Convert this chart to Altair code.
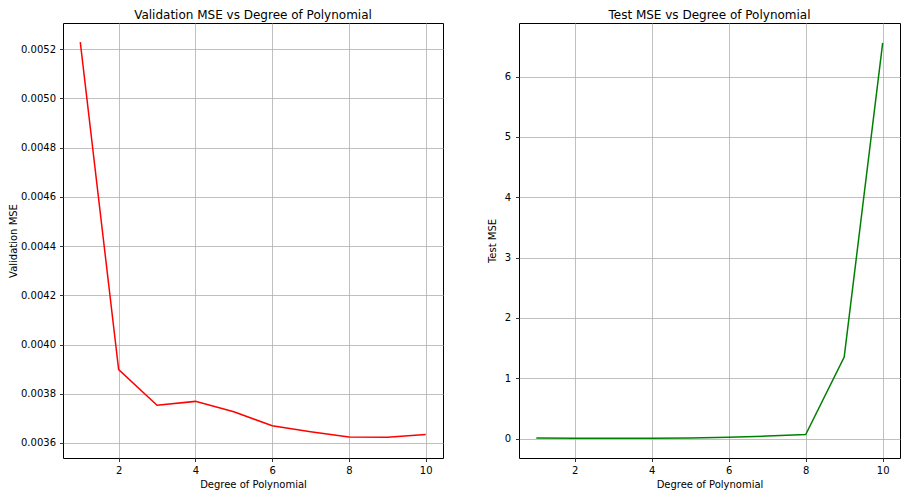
import altair as alt
import pandas as pd

degrees = [1, 2, 3, 4, 5, 6, 7, 8, 9, 10]
val_mse = [0.005228, 0.003898, 0.003753, 0.003769, 0.003727, 0.003670, 0.003646, 0.003624, 0.003623, 0.003634]
test_mse = [0.008, 0.006, 0.005, 0.006, 0.010, 0.020, 0.040, 0.066, 1.35, 6.56]

df = pd.DataFrame({"deg": degrees, "val": val_mse, "test": test_mse})

FONT = "DejaVu Sans"

def xenc():
    return alt.X("deg:Q", scale=alt.Scale(domain=[0.55, 10.45], nice=False, zero=False),
                 axis=alt.Axis(title="Degree of Polynomial", values=[2, 4, 6, 8, 10], format="d"))

left = alt.Chart(df).mark_line(color="#ff0000", strokeWidth=1.5).encode(
    x=xenc(),
    y=alt.Y("val:Q", scale=alt.Scale(domain=[0.003539, 0.005306], nice=False, zero=False),
            axis=alt.Axis(title="Validation MSE", values=[0.0036, 0.0038, 0.0040, 0.0042, 0.0044, 0.0046, 0.0048, 0.0050, 0.0052],
                          format=".4f", titlePadding=2, labelPadding=4)),
).properties(width=380, height=435,
             title=alt.TitleParams("Validation MSE vs Degree of Polynomial"))

right = alt.Chart(df).mark_line(color="#008000", strokeWidth=1.5).encode(
    x=xenc(),
    y=alt.Y("test:Q", scale=alt.Scale(domain=[-0.323, 6.888], nice=False, zero=False),
            axis=alt.Axis(title="Test MSE", values=[0, 1, 2, 3, 4, 5, 6], format="d", titlePadding=7, labelPadding=5)),
).properties(width=381, height=435,
             title=alt.TitleParams("Test MSE vs Degree of Polynomial"))

chart = alt.hconcat(left, right, spacing=76, bounds="flush").properties(
    padding={"left": 0, "top": 0, "right": 0, "bottom": 0},
).configure(font=FONT).configure_view(
    stroke="#000000", strokeWidth=1
).configure_axis(
    domain=False, grid=True, gridColor="#b0b0b0", gridWidth=0.8,
    tickColor="#000000", tickWidth=0.8, tickSize=3.5, labelPadding=3.5,
    labelFont=FONT, labelFontSize=10, labelColor="#000000",
    titleFont=FONT, titleFontSize=10, titleFontWeight="normal", titleColor="#000000",
    labelFlush=False, labelOverlap=False,
).configure_title(
    font=FONT, fontSize=12, fontWeight="normal", color="#000000", offset=1, anchor="middle"
)

chart.save("out.html", embed_options={"renderer": "svg", "actions": False})
